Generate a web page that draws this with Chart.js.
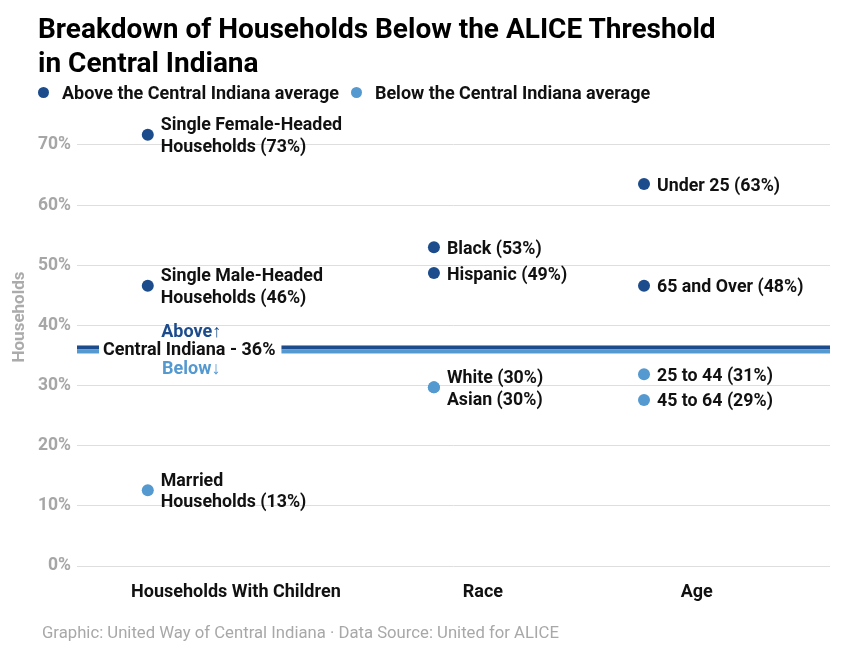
<!DOCTYPE html>
<html>
<head>
<meta charset="utf-8">
<script src="https://cdn.jsdelivr.net/npm/chart.js@4.4.1/dist/chart.umd.min.js"></script>
<style>
  body { margin: 0; background: #fff; font-family: Roboto, sans-serif; }
  #wrap { position: relative; width: 856px; height: 648px; overflow: hidden; }
  #box { position: absolute; left: 0; top: 0; width: 856px; height: 648px; }
  #title { position: absolute; left: 38px; top: 12px; font-weight: 700; font-size: 28px; line-height: 34px; color: #000; }
  #legend { position: absolute; left: 38px; top: 82px; font-weight: 700; font-size: 18px; color: #111; display: flex; }
  #legend span.item { display: flex; align-items: center; margin-right: 12px; }
  #legend span.dot { width: 11px; height: 11px; border-radius: 50%; margin-right: 13px; display: inline-block; }
  #footer { position: absolute; left: 42px; top: 623px; font-size: 16.7px; color: #a8a8a8; }
</style>
</head>
<body>
<div id="wrap">
  <div id="box"><canvas id="chart"></canvas></div>
  <div id="title">Breakdown of Households Below the ALICE Threshold<br>in Central Indiana</div>
  <div id="legend"></div>
  <div id="footer">Graphic: United Way of Central Indiana · Data Source: United for ALICE</div>
</div>
<script>
// groups on the x axis
const groups = ["Households With Children", "Race", "Age"];
// where the group names sit on the (0-100) x scale, and where its dots sit
const groupTickX = [21.1, 53.9, 82.3];
const groupPointX = [9.4, 47.4, 75.3];

// points
const pointLabels = [
  "Single Female-Headed\nHouseholds (73%)",
  "Single Male-Headed\nHouseholds (46%)",
  "Married\nHouseholds (13%)",
  "Black (53%)",
  "Hispanic (49%)",
  "White (30%)",
  "Asian (30%)",
  "Under 25 (63%)",
  "65 and Over (48%)",
  "25 to 44 (31%)",
  "45 to 64 (29%)"
];
const pointGroup = [0, 0, 0, 1, 1, 1, 1, 2, 2, 2, 2];
const pointValues = [71.7, 46.6, 12.6, 53.0, 48.7, 29.7, 29.7, 63.5, 46.6, 31.9, 27.6];

// Central Indiana average
const averageValue = 36;
const averageLabel = "Central Indiana - 36%";

const seriesNames = ["Above the Central Indiana average", "Below the Central Indiana average"];
const darkBlue = "#1c4c8c";
const lightBlue = "#5499d0";
const seriesColors = [darkBlue, lightBlue];

const yTicks = [0, 10, 20, 30, 40, 50, 60, 70];

//Split points into above / below
const above = [], below = [];
pointValues.forEach((v, i) => {
  const p = { x: groupPointX[pointGroup[i]], y: v, label: pointLabels[i] };
  if (v >= averageValue) above.push(p); else below.push(p);
});

//Legend in html
const legend = document.getElementById("legend");
seriesNames.forEach((name, i) => {
  const item = document.createElement("span");
  item.className = "item";
  const dot = document.createElement("span");
  dot.className = "dot";
  dot.style.background = seriesColors[i];
  item.appendChild(dot);
  item.appendChild(document.createTextNode(name));
  legend.appendChild(item);
});

//Average line with its labels
const averagePlugin = {
  id: "averageLine",
  beforeDatasetsDraw(chart) {
    const { ctx, chartArea } = chart;
    const y = chart.scales.y.getPixelForValue(averageValue);
    ctx.save();
    ctx.font = "700 18px Roboto";
    const textX = chartArea.left + 26;
    const w = ctx.measureText(averageLabel).width;
    const gapL = textX - 4, gapR = textX + w + 6;
    ctx.fillStyle = darkBlue;
    ctx.fillRect(chartArea.left, y - 4, gapL - chartArea.left, 4);
    ctx.fillRect(gapR, y - 4, chartArea.right - gapR, 4);
    ctx.fillStyle = lightBlue;
    ctx.fillRect(chartArea.left, y, gapL - chartArea.left, 4);
    ctx.fillRect(gapR, y, chartArea.right - gapR, 4);
    ctx.textBaseline = "middle";
    ctx.textAlign = "left";
    ctx.fillStyle = "#111";
    ctx.fillText(averageLabel, textX, y + 1);
    ctx.textAlign = "center";
    const cx = textX + w / 2 + 2;
    ctx.fillStyle = darkBlue;
    ctx.fillText("Above\u2191", cx, y - 17);
    ctx.fillStyle = lightBlue;
    ctx.fillText("Below\u2193", cx, y + 20);
    ctx.restore();
  }
};

//Labels next to the dots (dots on the same spot share one block)
const labelPlugin = {
  id: "dotLabels",
  afterDatasetsDraw(chart) {
    const { ctx } = chart;
    const spots = [];
    chart.data.datasets.forEach((ds, di) => {
      chart.getDatasetMeta(di).data.forEach((el, i) => {
        const key = Math.round(el.x) + "_" + Math.round(el.y);
        let s = spots.find(s => s.key === key);
        if (!s) { s = { key, x: el.x, y: el.y, lines: [] }; spots.push(s); }
        s.lines.push(...ds.data[i].label.split("\n"));
      });
    });
    ctx.save();
    ctx.font = "700 17.8px Roboto";
    ctx.fillStyle = "#111";
    ctx.textAlign = "left";
    ctx.textBaseline = "middle";
    const lh = 21.5;
    spots.forEach(s => {
      const top = s.y + 2 - (s.lines.length - 1) * lh / 2;
      s.lines.forEach((t, k) => ctx.fillText(t, s.x + 13, top + k * lh));
    });
    ctx.restore();
  }
};

new Chart(document.getElementById("chart"), {
  type: "scatter",
  data: {
    datasets: [
      { label: seriesNames[0], data: above, backgroundColor: darkBlue, borderWidth: 0, pointRadius: 6, pointHoverRadius: 6 },
      { label: seriesNames[1], data: below, backgroundColor: lightBlue, borderWidth: 0, pointRadius: 6, pointHoverRadius: 6 }
    ]
  },
  plugins: [averagePlugin, labelPlugin],
  options: {
    responsive: true,
    maintainAspectRatio: false,
    animation: false,
    events: [],
    layout: { padding: { left: 0, right: 26, top: 68, bottom: 32 } },
    plugins: { legend: { display: false }, tooltip: { enabled: false } },
    scales: {
      x: {
        type: "linear",
        min: 0,
        max: 100,
        grid: { display: false },
        border: { display: false },
        afterBuildTicks: (scale) => { scale.ticks = groupTickX.map(v => ({ value: v })); },
        afterFit: (scale) => { scale.height = 50; },
        ticks: {
          autoSkip: false,
          maxRotation: 0,
          padding: 8,
          color: "#111",
          font: { family: "Roboto", size: 18, weight: "700" },
          callback: (v) => groups[groupTickX.indexOf(v)]
        }
      },
      y: {
        min: 0,
        max: 82.8,
        grid: { color: "#dedede", drawTicks: false },
        border: { display: false },
        afterBuildTicks: (scale) => { scale.ticks = yTicks.map(v => ({ value: v })); },
        afterFit: (scale) => { scale.width = 77; },
        title: {
          display: true,
          text: "Households",
          color: "#ababab",
          font: { family: "Roboto", size: 17, weight: "700" },
          padding: { top: 10, bottom: 0 }
        },
        ticks: {
          padding: 6,
          color: "#a6a6a6",
          font: { family: "Roboto", size: 17.5, weight: "700" },
          callback: (v) => v + "%"
        }
      }
    }
  }
});
</script>
</body>
</html>
